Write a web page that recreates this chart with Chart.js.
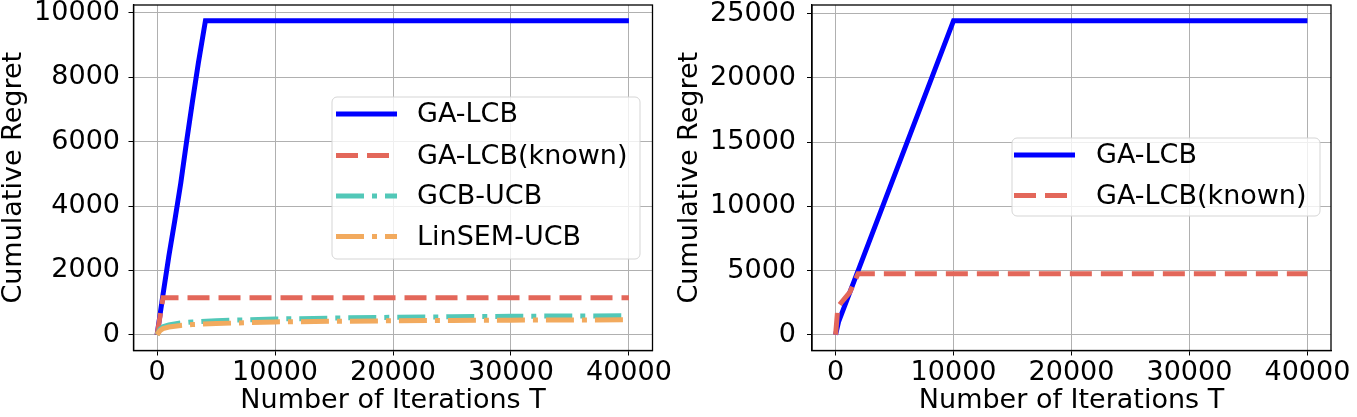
<!DOCTYPE html>
<html>
<head>
<meta charset="utf-8">
<script src="https://cdn.jsdelivr.net/npm/chart.js@4"></script>
<style>
  body { margin: 0; background: #fff; }
  canvas { position: absolute; top: 0; }
</style>
</head>
<body>
<canvas id="graficoEsq" width="678" height="417" style="left:0"></canvas>
<canvas id="graficoDir" width="681" height="417" style="left:676px"></canvas>
<script>
// ---- dados ----
const xTicks = [0, 10000, 20000, 30000, 40000];
const yTicksEsq = [0, 2000, 4000, 6000, 8000, 10000];
const yTicksDir = [0, 5000, 10000, 15000, 20000, 25000];

const nomes = ["GA-LCB", "GA-LCB(known)", "GCB-UCB", "LinSEM-UCB"];

// painel esquerdo
const gaLcbT = [0, 500, 1000, 1500, 2000, 2500, 3000, 3500, 4100, 40000];
const gaLcbRegret = [0, 1250, 2450, 3550, 4700, 6000, 7250, 8450, 9760, 9760];
const knownT = [0, 500, 40000];
const knownRegret = [0, 1150, 1150];
const gcbT = [0, 250, 500, 1000, 2000, 3000, 5000, 10000, 15000, 20000, 25000, 30000, 35000, 40000];
const gcbRegret = [0, 170, 250, 310, 370, 400, 440, 490, 520, 545, 560, 575, 585, 590];
const linsemT = [0, 250, 500, 1000, 2000, 3000, 5000, 10000, 15000, 20000, 25000, 30000, 35000, 40000];
const linsemRegret = [0, 130, 190, 240, 290, 320, 350, 400, 420, 435, 445, 455, 460, 465];

// painel direito
const gaLcbDirT = [0, 250, 10000, 40000];
const gaLcbDirRegret = [0, 1000, 24450, 24450];
const knownDirT = [0, 200, 1200, 1900, 40000];
const knownDirRegret = [0, 2200, 3300, 4750, 4750];

const cores = ["#0000ff", "#e3675a", "#52c8b8", "#f2aa5e"];

function pontos(xs, ys) {
  return xs.map((x, i) => ({ x: x, y: ys[i] }));
}

function serie(i, xs, ys, dash, ordem) {
  return {
    label: nomes[i],
    data: pontos(xs, ys),
    borderColor: cores[i],
    borderWidth: 5,
    borderDash: dash,
    borderCapStyle: "butt",
    pointRadius: 0,
    tension: 0,
    fill: false,
    order: ordem
  };
}

const moldura = {
  id: "moldura",
  afterDatasetsDraw(chart) {
    const { ctx, chartArea: a } = chart;
    ctx.save();
    ctx.strokeStyle = "#000";
    ctx.lineWidth = 1.3;
    ctx.strokeRect(a.left, a.top, a.right - a.left, a.bottom - a.top);
    ctx.restore();
  }
};

const legendaCaixa = {
  id: "legendaCaixa",
  afterDraw(chart, args, opts) {
    const ctx = chart.ctx;
    const [l, t, r, b] = opts.box;
    ctx.save();
    ctx.beginPath();
    ctx.roundRect(l, t, r - l, b - t, 5);
    ctx.fillStyle = "rgba(255,255,255,0.8)";
    ctx.fill();
    ctx.strokeStyle = "#d5d5d5";
    ctx.lineWidth = 1;
    ctx.stroke();
    chart.data.datasets.forEach((ds, i) => {
      const y = opts.rows[i];
      ctx.beginPath();
      ctx.setLineDash(ds.borderDash || []);
      ctx.lineDashOffset = 0;
      ctx.strokeStyle = ds.borderColor;
      ctx.lineWidth = 5;
      ctx.lineCap = "butt";
      ctx.moveTo(opts.sample[0], y);
      ctx.lineTo(opts.sample[1], y);
      ctx.stroke();
      ctx.setLineDash([]);
      ctx.fillStyle = "#000";
      ctx.font = "27px 'DejaVu Sans'";
      ctx.textBaseline = "middle";
      ctx.textAlign = "left";
      ctx.fillText(ds.label, opts.textX, y + 1);
    });
    ctx.restore();
  }
};

function criarGrafico(id, datasets, yTicks, cfg) {
  const ctx = document.getElementById(id).getContext("2d");
  return new Chart(ctx, {
    type: "line",
    data: { datasets: datasets },
    options: {
      responsive: false,
      animation: false,
      layout: { padding: { top: 5, right: cfg.padRight, left: 0, bottom: 0 } },
      plugins: {
        legend: { display: false },
        tooltip: { enabled: false },
        legendaCaixa: cfg.legenda
      },
      scales: {
        x: {
          type: "linear",
          min: -2000,
          max: 42000,
          afterBuildTicks: s => { s.ticks = xTicks.map(v => ({ value: v })); },
          afterFit: s => { s.height = 66.5; s.paddingLeft = 0; s.paddingRight = 0; },
          ticks: {
            color: "#000", padding: 1, maxRotation: 0, autoSkip: false, font: { size: 27 },
            callback: v => String(v)
          },
          grid: { color: "#b0b0b0", lineWidth: 1, tickLength: 5, tickColor: "#000" },
          border: { color: "#000", width: 1.3 },
          title: {
            display: true,
            text: "Number of Iterations T",
            color: "#000",
            font: { size: 27 },
            padding: { top: 0, bottom: 0 }
          }
        },
        y: {
          type: "linear",
          min: cfg.yMin,
          max: cfg.yMax,
          afterBuildTicks: s => { s.ticks = yTicks.map(v => ({ value: v })); },
          afterFit: s => { s.width = cfg.yWidth; s.paddingTop = 0; s.paddingBottom = 0; },
          ticks: {
            color: "#000", padding: cfg.tickPad, font: { size: 27 },
            callback: v => String(v)
          },
          grid: { color: "#b0b0b0", lineWidth: 1, tickLength: 5, tickColor: "#000" },
          border: { color: "#000", width: 1.3 },
          title: {
            display: true,
            text: "Cumulative Regret",
            color: "#000",
            font: { size: 27, lineHeight: 1 },
            padding: { top: 0, bottom: 0 }
          }
        }
      }
    },
    plugins: [moldura, legendaCaixa]
  });
}

Chart.defaults.font.family = "'DejaVu Sans', sans-serif";

criarGrafico("graficoEsq", [
  serie(0, gaLcbT, gaLcbRegret, [], 4),
  serie(1, knownT, knownRegret, [22, 9], 3),
  serie(2, gcbT, gcbRegret, [28, 8, 5, 8], 2),
  serie(3, linsemT, linsemRegret, [28, 8, 5, 8], 1)
], yTicksEsq, {
  padRight: 25.5,
  yMin: -488,
  yMax: 10248,
  yWidth: 133.5,
  tickPad: 8.5,
  legenda: { box: [332, 97, 640, 259], sample: [336, 397], textX: 417, rows: [114, 155.5, 196, 236.5] }
});

criarGrafico("graficoDir", [
  serie(0, gaLcbDirT, gaLcbDirRegret, [], 2),
  serie(1, knownDirT, knownDirRegret, [22, 9], 1)
], yTicksDir, {
  padRight: 26,
  yMin: -1222,
  yMax: 25672,
  yWidth: 136,
  tickPad: 11,
  legenda: { box: [336, 138, 644, 216], sample: [338, 399], textX: 420, rows: [155, 195.5] }
});
</script>
</body>
</html>
